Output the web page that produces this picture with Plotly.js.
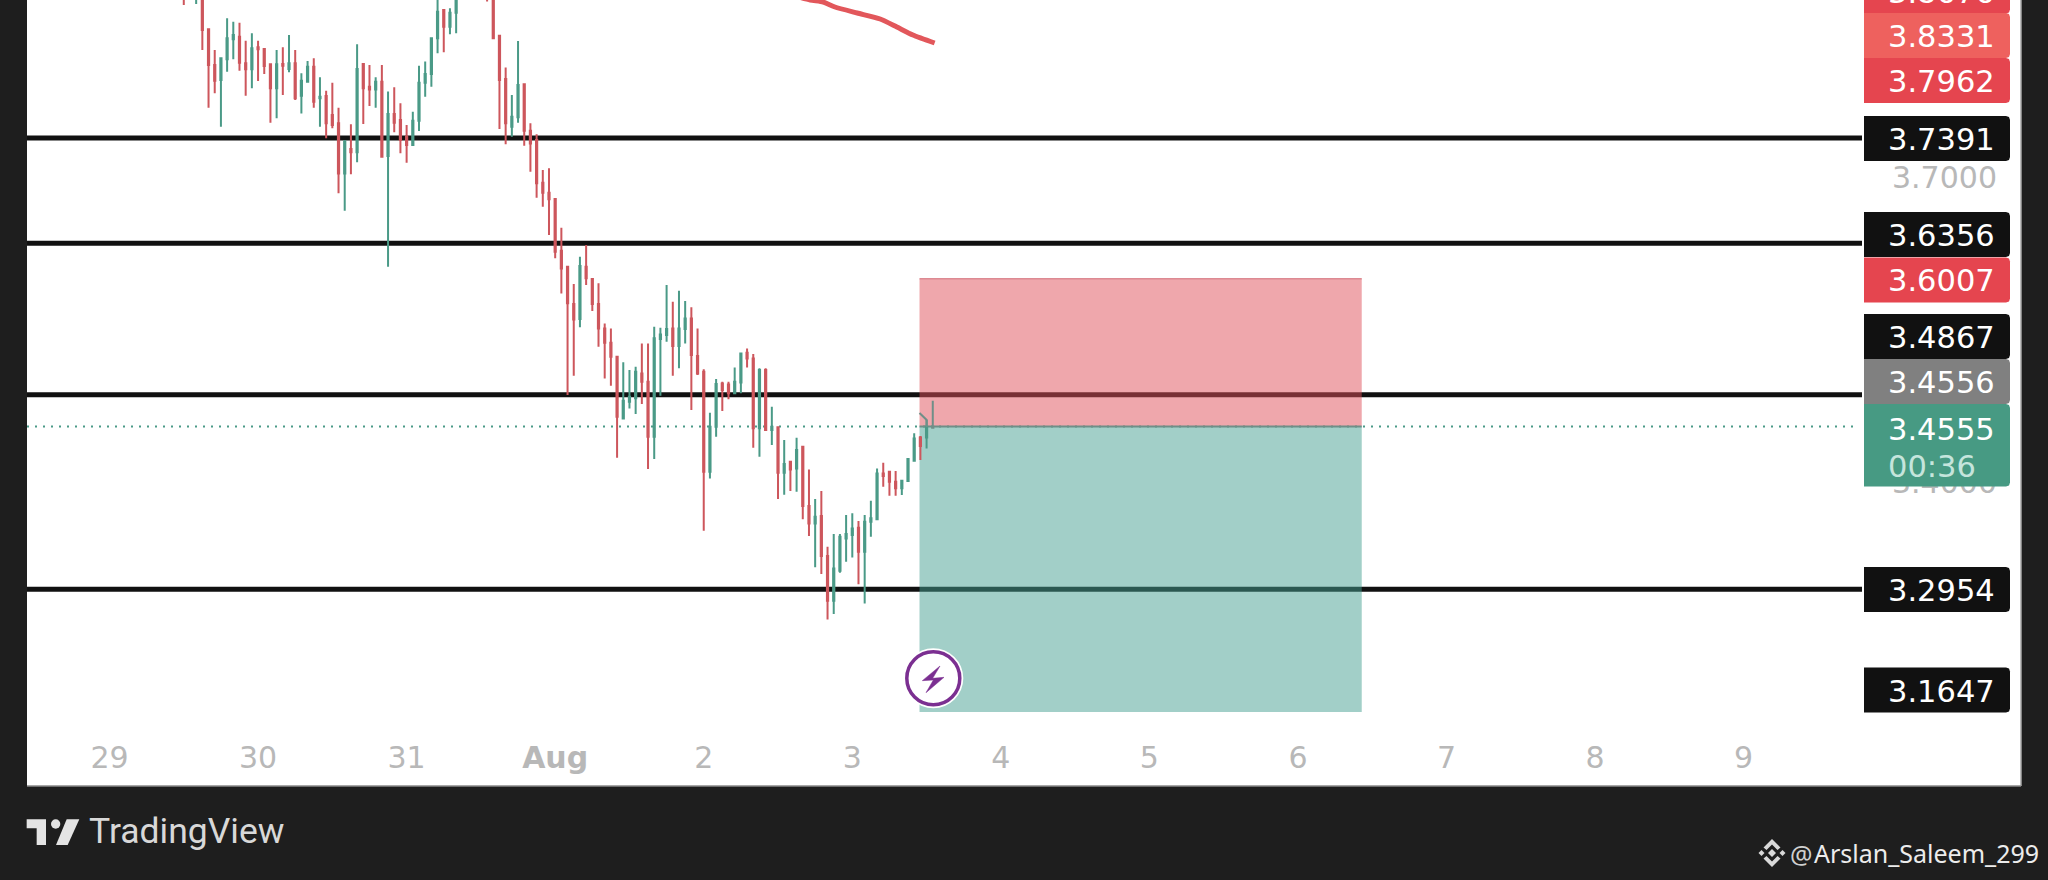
<!DOCTYPE html>
<html><head><meta charset="utf-8">
<script src="https://cdn.plot.ly/plotly-3.0.1.min.js"></script>
<style>html,body{margin:0;padding:0;background:#1e1e1e;overflow:hidden}#c{width:2048px;height:880px}</style>
</head><body><div id="c"></div>
<script>
// Hourly candles, first one at hour 12 counted from 29 Jul 00:00
const firstHour = 12;
const candleOpen = [3.905,3.885,3.885,3.900,3.8460,3.8109,3.7961,3.8165,3.8361,3.8387,3.8125,3.8066,3.8283,3.8266,3.8115,3.7879,3.8119,3.8069,3.8125,3.7807,3.7945,3.8092,3.7781,3.7804,3.7617,3.7535,3.7043,3.7283,3.7250,3.8119,3.7896,3.7869,3.7945,3.7214,3.7627,3.7568,3.7404,3.7322,3.7561,3.7935,3.8020,3.8371,3.8650,3.8486,3.8623,3.877,3.900,3.890,3.925,3.910,3.885,3.8397,3.7971,3.7502,3.7594,3.7919,3.7463,3.7371,3.6952,3.6853,3.6791,3.6283,3.6125,3.5758,3.5611,3.6125,3.6004,3.5758,3.5519,3.5378,3.5240,3.4634,3.4798,3.4831,3.5076,3.4994,3.4454,3.5414,3.5453,3.5519,3.5345,3.5512,3.5617,3.5247,3.5093,3.4109,3.4552,3.4978,3.4968,3.4880,3.4988,3.5280,3.5224,3.4536,3.5109,3.4519,3.4546,3.4100,3.4208,3.4142,3.4355,3.3772,3.3601,3.3674,3.3280,3.2841,3.3136,3.3454,3.3487,3.3559,3.3323,3.3618,3.3641,3.4093,3.4110,3.4011,3.3946,3.4018,3.4218,3.4447,3.4447,3.4542];
const candleClose = [3.885,3.900,3.900,3.8453,3.8109,3.7955,3.8174,3.8371,3.8404,3.8132,3.8066,3.8273,3.8263,3.8099,3.7879,3.8115,3.8102,3.8125,3.7781,3.7955,3.8092,3.7748,3.7797,3.7535,3.7519,3.7043,3.7355,3.7250,3.8069,3.7879,3.7869,3.7945,3.7207,3.7627,3.7542,3.7371,3.7322,3.7561,3.7935,3.8020,3.8371,3.8633,3.8486,3.8623,3.8764,3.900,3.890,3.925,3.910,3.885,3.8371,3.7961,3.7535,3.7601,3.7912,3.7463,3.7338,3.6945,3.6853,3.6788,3.6273,3.6109,3.5765,3.5607,3.6132,3.6011,3.5758,3.5519,3.5378,3.5240,3.4650,3.4808,3.4847,3.5093,3.4994,3.4454,3.5421,3.5460,3.5512,3.5345,3.5519,3.5617,3.5257,3.5076,3.4109,3.4552,3.4972,3.4913,3.4880,3.4995,3.5273,3.5224,3.4536,3.5109,3.4519,3.4552,3.4100,3.4185,3.4132,3.4323,3.3772,3.3601,3.3667,3.3280,3.2841,3.3159,3.3470,3.3497,3.3552,3.3323,3.3618,3.3651,3.4093,3.4067,3.4011,3.3946,3.4021,3.4234,3.4437,3.4362,3.4552,3.4552];
const candleHigh = [3.910,3.920,3.915,3.915,3.8469,3.8256,3.8184,3.8568,3.8535,3.8525,3.8348,3.8420,3.8348,3.8273,3.8125,3.8256,3.8283,3.8404,3.8256,3.8027,3.8148,3.8174,3.7988,3.7856,3.7935,3.7689,3.7371,3.7525,3.8312,3.8125,3.8109,3.7988,3.8109,3.7847,3.7889,3.7732,3.7519,3.7650,3.8102,3.8142,3.8381,3.8814,3.8656,3.8666,3.8879,3.930,3.920,3.940,3.945,3.920,3.900,3.8404,3.8083,3.7814,3.8345,3.7922,3.7535,3.7427,3.7076,3.7093,3.6798,3.6509,3.6132,3.5955,3.6224,3.6338,3.6011,3.5962,3.5568,3.5519,3.5247,3.5185,3.5109,3.5142,3.5371,3.5371,3.5535,3.5526,3.5945,3.5781,3.5889,3.5788,3.5726,3.5519,3.5116,3.4690,3.5021,3.4995,3.4995,3.5135,3.5280,3.5322,3.5267,3.5126,3.5126,3.4749,3.4552,3.4421,3.4218,3.4444,3.4365,3.4132,3.3841,3.3919,3.3372,3.3497,3.3497,3.3683,3.3700,3.3624,3.3683,3.3824,3.4142,3.4198,3.4116,3.4116,3.4028,3.4241,3.4487,3.4460,3.4618,3.4808];
const candleLow = [3.8699,3.878,3.8709,3.8256,3.7689,3.7830,3.7502,3.8043,3.8165,3.8053,3.7807,3.7879,3.7951,3.8020,3.7542,3.7584,3.7814,3.8037,3.7765,3.7633,3.7945,3.7689,3.7502,3.7388,3.7486,3.6847,3.6676,3.7034,3.7152,3.7529,3.7706,3.7689,3.7197,3.6125,3.7447,3.7240,3.7148,3.7315,3.7460,3.7797,3.7896,3.8224,3.8233,3.8410,3.8420,3.876,3.885,3.880,3.900,3.8732,3.8361,3.7479,3.7329,3.7404,3.7542,3.7315,3.7060,3.6804,3.6716,3.6437,3.6208,3.5863,3.4863,3.5053,3.5529,3.5945,3.5689,3.5339,3.5027,3.4955,3.4247,3.4634,3.4732,3.4677,3.4775,3.4136,3.4234,3.4857,3.5388,3.5053,3.5126,3.5371,3.4716,3.5060,3.3529,3.4044,3.4454,3.4706,3.4821,3.4880,3.4880,3.5135,3.4345,3.4257,3.4509,3.4372,3.3841,3.3883,3.3919,3.3913,3.3641,3.3477,3.3169,3.3103,3.2657,3.2710,3.3116,3.3224,3.3267,3.3002,3.2815,3.3470,3.3641,3.3962,3.3874,3.3874,3.3880,3.4018,3.4218,3.4224,3.4339,3.4542];

const curveHours = [110,113.2,115.3,117.2,120.8,124.5,127.2,129.8,133.3];
const curvePrices = [3.880,3.8748,3.8728,3.8679,3.8620,3.8561,3.8482,3.8404,3.8325];

const dayTickHours = [0,24,48,72,96,120,144,168,192,216,240,264];
const dayTickLabels = ['29','30','31','<b>Aug</b>','2','3','4','5','6','7','8','9'];
const priceTicks = [3.2,3.3,3.4,3.5,3.6,3.7,3.8];

const levelLines = [3.7391,3.6356,3.4867,3.2954];
const lastPrice = 3.4555;
const stopPrice = 3.6007;
const targetPrice = 3.1747;
const positionStartHour = 130.86;
const positionEndHour = 202.3;

// price tags: text, centre in screen px, fill
const tagTexts = ['3.8676','3.8331','3.7962','3.7391','3.6356','3.6007','3.4867','3.4556','3.2954','3.1647'];
const tagCentres = [-9,35.5,80.5,138.5,234.5,280,336.5,381.5,589.5,690];
const tagFills = ['#e5454f','#ee615e','#e5454f','#111111','#111111','#e5454f','#111111','#808080','#111111','#111111'];

const W=2048,H=880,L=27,R=1862,PB=725;
const px=v=>(v-L)/(R-L), py=v=>1-v/PB;
const p=(pts,close=true)=>pts.map((q,i)=>(i?'L':'M')+px(q[0])+','+py(q[1])).join(' ')+(close?' Z':'');
const paperShape=(o)=>Object.assign({xref:'paper',yref:'paper'},o);
const rectP=(x0,y0,x1,y1,fill,layer)=>paperShape({type:'rect',x0:px(x0),x1:px(x1),y0:py(y0),y1:py(y1),fillcolor:fill,line:{width:0},layer:layer||'below'});
// box with rounded right corners
const tagPath=(y0,y1)=>{const x0=1864,x1=2010,r=4;
  const a=[[x0,y0],[x1-r,y0],[x1-1,y0+1],[x1,y0+r],[x1,y1-r],[x1-1,y1-1],[x1-r,y1],[x0,y1]];return p(a);};

const shapes=[
  rectP(L,-5,2021,786,'#ffffff'),
  paperShape({type:'line',x0:px(2021),x1:px(2021),y0:py(0),y1:py(786),line:{color:'#a8a8a8',width:1.5},layer:'below'}),
  paperShape({type:'line',x0:px(L),x1:px(2021),y0:py(786),y1:py(786),line:{color:'#8a8a8a',width:1.5},layer:'below'}),
];
levelLines.forEach(v=>shapes.push({type:'line',xref:'paper',yref:'y',x0:0,x1:1,y0:v,y1:v,line:{color:'#111111',width:5},layer:'below'}));
shapes.push({type:'line',xref:'paper',yref:'y',x0:0,x1:0.998,y0:lastPrice,y1:lastPrice,line:{color:'#4a9a87',width:2,dash:'2px,6px'},layer:'below'});
shapes.push({type:'rect',xref:'x',yref:'y',x0:positionStartHour,x1:positionEndHour,y0:lastPrice,y1:stopPrice,fillcolor:'rgba(224,80,90,0.5)',line:{width:0},layer:'below'});
shapes.push({type:'rect',xref:'x',yref:'y',x0:positionStartHour,x1:positionEndHour,y0:targetPrice,y1:lastPrice,fillcolor:'rgba(70,160,145,0.5)',line:{width:0},layer:'below'});
shapes.push({type:'line',xref:'x',yref:'y',x0:positionStartHour,x1:positionEndHour,y0:stopPrice,y1:stopPrice,line:{color:'#dd8a92',width:1.5},layer:'below'});
shapes.push({type:'line',xref:'x',yref:'y',x0:positionStartHour,x1:positionEndHour,y0:lastPrice,y1:lastPrice,line:{color:'#6f8f88',width:2},layer:'below'});
// small entry marker
shapes.push(paperShape({type:'path',path:p([[919.5,413],[926.7,420],[926.7,427]],false),line:{color:'#6f8f88',width:2},layer:'above'}));

// bolt badge
const cx=933.3,cy=678.3;
const circle=(r,fill,lc,lw)=>paperShape({type:'circle',x0:px(cx-r),x1:px(cx+r),y0:py(cy-r),y1:py(cy+r),fillcolor:fill,line:{color:lc,width:lw},layer:'above'});
shapes.push(circle(30,'#ffffff','#ffffff',0));
shapes.push(circle(26.5,'#ffffff','#7b2f91',3.5));
shapes.push(paperShape({type:'path',path:p([[150,78],[97,122],[130,120],[108,158],[162,112],[128,115]].map(q=>[890+q[0]/3,640+q[1]/3])),fillcolor:'#7b2f91',line:{color:'#7b2f91',width:0.5},layer:'above'}));

// price tags
tagTexts.forEach((t,i)=>shapes.push(paperShape({type:'path',path:tagPath(tagCentres[i]-22.5,tagCentres[i]+22.5),fillcolor:tagFills[i],line:{width:0},layer:'above'})));
shapes.push(paperShape({type:'path',path:tagPath(404,486.5),fillcolor:'#479a83',line:{width:0},layer:'above'}));

// TradingView mark
const tv=q=>[20+q[0]/3,810+q[1]/3];
const logo='#e4e4e4';
shapes.push(paperShape({type:'path',path:p([[20,28],[78,28],[78,105],[50,105],[50,55],[20,55]].map(tv)),fillcolor:logo,line:{width:0},layer:'above'}));
shapes.push(paperShape({type:'path',path:p([[140,28],[178,28],[143,105],[108,105]].map(tv)),fillcolor:logo,line:{width:0},layer:'above'}));
shapes.push(paperShape({type:'circle',x0:px(tv([93,0])[0]),x1:px(tv([121,0])[0]),y0:py(810+28/3),y1:py(810+56/3),fillcolor:logo,line:{width:0},layer:'above'}));

// Binance mark
const bx=1772,by=853,bc='#d9d9d9';
const dm=(x,y,r)=>p([[x,y-r],[x+r,y],[x,y+r],[x-r,y]]);
[[bx,by,4],[bx-10.5,by,3],[bx+10.5,by,3]].forEach(d=>shapes.push(paperShape({type:'path',path:dm(d[0],d[1],d[2]),fillcolor:bc,line:{width:0},layer:'above'})));
shapes.push(paperShape({type:'path',path:p([[bx,by-14],[bx+8.5,by-5.5],[bx+5.5,by-3],[bx,by-8.5],[bx-5.5,by-3],[bx-8.5,by-5.5]]),fillcolor:bc,line:{width:0},layer:'above'}));
shapes.push(paperShape({type:'path',path:p([[bx,by+14],[bx+8.5,by+5.5],[bx+5.5,by+3],[bx,by+8.5],[bx-5.5,by+3],[bx-8.5,by+5.5]]),fillcolor:bc,line:{width:0},layer:'above'}));

const FONT='"DejaVu Sans", sans-serif';
const note=(x,y,text,size,color,family)=>({xref:'paper',yref:'paper',x:px(x),y:py(y),xanchor:'left',yanchor:'middle',text,showarrow:false,font:{family:family||FONT,size,color},borderpad:0,borderwidth:0});
const annotations=tagTexts.map((t,i)=>note(1888,tagCentres[i]+1,t,30.5,'#ffffff'));
annotations.push(note(1888,429,'3.4555',30.5,'#ffffff'));
annotations.push(note(1888,466,'00:36',30.5,'#c5e5dc'));
annotations.push(note(89,831,'TradingView',35.5,'#d8d8d8','Roboto, sans-serif'));
annotations.push(note(1790,854,'@',25,'#d0d0d0','"Noto Sans", sans-serif'));
annotations.push(note(1814,853,'Arslan_Saleem_299',25,'#ececec','"Noto Sans", sans-serif'));

const hours=candleOpen.map((_,i)=>firstHour+i);
const n=hours.length-1;
const RED='#cd565c',GREEN='#4a9a87',GREY='#6f8f88';
const stick=(a,b,inc,dec)=>({type:'candlestick',x:hours.slice(a,b),open:candleOpen.slice(a,b),high:candleHigh.slice(a,b),low:candleLow.slice(a,b),close:candleClose.slice(a,b),
  increasing:{line:{color:inc,width:2},fillcolor:inc},decreasing:{line:{color:dec,width:2},fillcolor:dec},whiskerwidth:0,hoverinfo:'skip',showlegend:false});
const data=[
  stick(0,n,GREEN,RED),
  stick(n,n+1,GREY,GREY),
  {type:'scatter',mode:'lines',x:curveHours,y:curvePrices,line:{color:'#e2575b',width:5,shape:'spline',smoothing:0.6},hoverinfo:'skip',showlegend:false}
];
const axisFont={family:FONT,size:30,color:'#b8b8b8'};
const layout={
  width:W,height:H,paper_bgcolor:'#1e1e1e',plot_bgcolor:'rgba(0,0,0,0)',
  margin:{l:L,r:W-R,t:0,b:H-PB,pad:0,autoexpand:false},
  showlegend:false,boxgap:0.72,
  xaxis:{type:'linear',range:[-13.328,283.118],tickmode:'array',tickvals:dayTickHours,ticktext:dayTickLabels,tickfont:axisFont,ticks:'outside',ticklen:6,tickcolor:'rgba(0,0,0,0)',showgrid:false,zeroline:false,showline:false,rangeslider:{visible:false},fixedrange:true},
  yaxis:{type:'linear',side:'right',range:[3.16191,3.87479],tickmode:'array',tickvals:priceTicks,tickformat:'.4f',tickfont:axisFont,ticks:'outside',ticklen:23,tickcolor:'rgba(0,0,0,0)',showgrid:false,zeroline:false,showline:false,fixedrange:true},
  shapes,annotations
};
Plotly.newPlot('c',data,layout,{displayModeBar:false,staticPlot:true});
</script></body></html>
